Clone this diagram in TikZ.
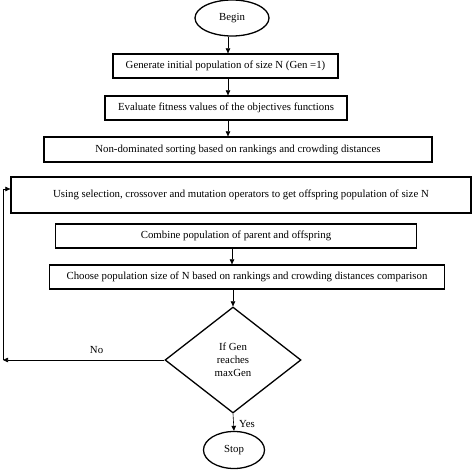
\documentclass[tikz,border=0pt]{standalone}
\usepackage{fontspec}
\setmainfont{Liberation Serif}
\usetikzlibrary{arrows.meta,shapes.geometric}
\tikzset{
  procbox/.style={draw,line width=1.3pt,rectangle,inner sep=0pt,font=\fontsize{10.8}{12}\selectfont},
  termnode/.style={draw,line width=1.3pt,ellipse,inner sep=0pt,font=\fontsize{10.8}{12}\selectfont},
  decnode/.style={draw,line width=1.3pt,diamond,inner sep=0pt,aspect=1.28,align=center,font=\fontsize{10.8}{13}\selectfont},
  flowln/.style={-{Triangle[length=5pt,width=4.5pt]},line width=0.6pt},
  edgelab/.style={font=\fontsize{10.8}{12}\selectfont},
}

\begin{document}
\begin{tikzpicture}[x=1pt,y=-1pt]
        \useasboundingbox (0,0) rectangle (474,470);
        % start / end
        \node[termnode,minimum width=74,minimum height=36] (begin) at (232,18) {Begin};
        \node[termnode,minimum width=61,minimum height=37] (stop)  at (234,450) {Stop};
        % process steps
        \node[procbox,minimum width=225,minimum height=24] (gen)  at (225.5,66) {Generate initial population of size N (Gen =1)};
        \node[procbox,minimum width=242,minimum height=24] (eval) at (226,108) {Evaluate fitness values of the objectives functions};
        \node[procbox,minimum width=388,minimum height=25] (sort) at (238,149.5) {Non-dominated sorting based on rankings and crowding distances};
        \node[procbox,minimum width=460,minimum height=36] (offs) at (241,195) {Using selection, crossover and mutation operators to get offspring population of size N};
        \node[procbox,minimum width=361,minimum height=24] (comb) at (236,236) {Combine population of parent and offspring};
        \node[procbox,minimum width=395,minimum height=24] (pick) at (247,277) {Choose population size of N based on rankings and crowding distances comparison};
        % check
        \node[decnode,minimum width=136,minimum height=106] (test) at (233,360) {If Gen\\reaches\\maxGen};
        \coordinate (fbk) at (3,360);
        % connectors
        \draw[flowln] (begin.south -| 228,0) -- (gen.north -| 228,0);
        \draw[flowln] (gen.south -| 228,0) -- (eval.north -| 228,0);
        \draw[flowln] (eval.south -| 228,0) -- (sort.north -| 228,0);
        \draw[flowln] (comb.south -| 232,0) -- (pick.north -| 232,0);
        \draw[flowln] (pick.south -| test.north) -- (test.north);
        \draw[flowln] (test.south) -- (stop.north) node[edgelab,right,pos=0.6,xshift=2pt] {Yes};
        \draw[flowln] (test.west) -- (fbk) node[edgelab,above,pos=0.42,yshift=3pt] {No};
        \draw[flowln] (fbk) |- ([yshift=6pt]offs.west);
      \end{tikzpicture}
\end{document}
